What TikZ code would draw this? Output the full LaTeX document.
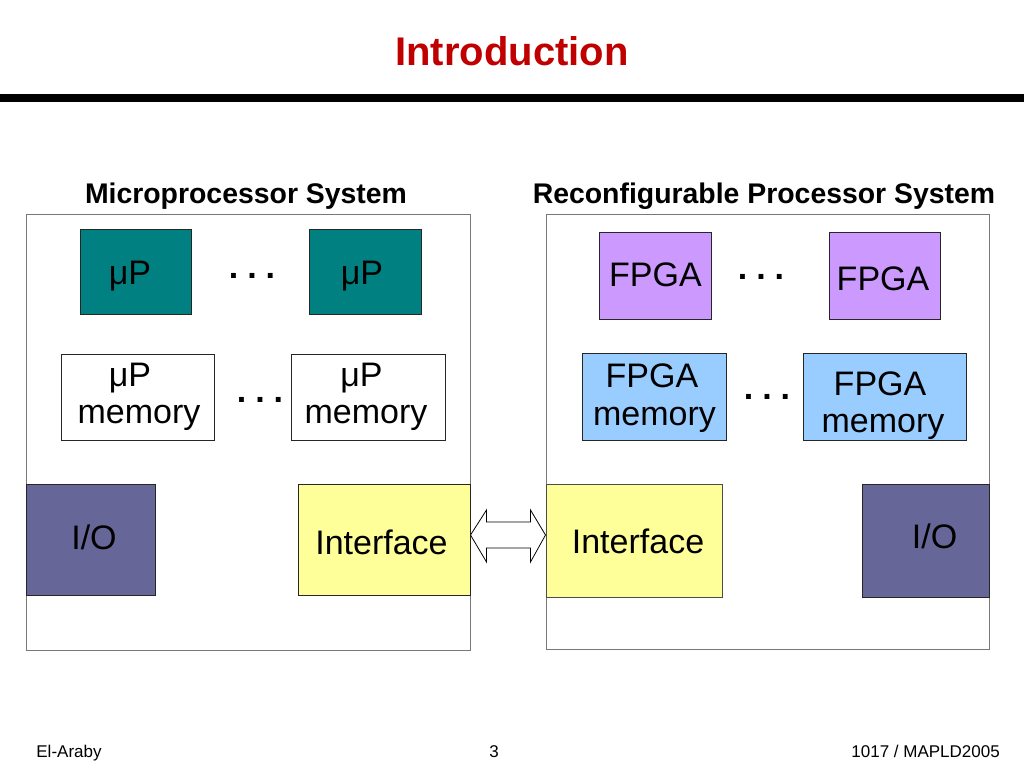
\documentclass[tikz,border=0pt]{standalone}
\usepackage{fontspec}
\setmainfont{Liberation Sans}
\usetikzlibrary{calc}
\definecolor{titlered}{RGB}{192,0,0}
\definecolor{teal}{RGB}{0,128,128}
\definecolor{iocol}{RGB}{102,102,153}
\definecolor{ifcol}{RGB}{255,255,153}
\definecolor{fpgacol}{RGB}{204,153,255}
\definecolor{fmemcol}{RGB}{153,204,255}
\definecolor{framegray}{RGB}{120,120,120}
\newcommand{\tdots}{.\kern9pt.\kern9pt.}
\begin{document}
\begin{tikzpicture}[x=1pt,y=-1pt,
  frame/.style={draw=framegray, line width=1pt, fill=white, inner sep=0pt},
  blk/.style={draw=black!85, line width=1pt, inner sep=0pt},
  sz/.style n args={2}{minimum width=#1pt, minimum height=#2pt},
  txt/.style={anchor=base, inner sep=0pt, font=\fontsize{34}{38}\selectfont},
  dotsty/.style={anchor=base, inner sep=0pt, font=\fontsize{34}{38}\selectfont\bfseries},
  hdr/.style={anchor=base, inner sep=0pt, font=\fontsize{28.4}{32}\selectfont\bfseries},
  foot/.style={anchor=base, inner sep=0pt, font=\fontsize{17}{20}\selectfont},
  arrowshape/.style={draw=black, line width=0.8pt, fill=white, line join=miter}]
\useasboundingbox[fill=white] (0,0) rectangle (1024,768);

% title and rule
\node[anchor=base, inner sep=0pt, font=\fontsize{40}{44}\selectfont\bfseries, text=titlered] (title) at (512,66) {Introduction};
\fill[black] (0,94) rectangle (1024,101.5);

% headers
\node[hdr] (hL) at (246,203) {Microprocessor System};
\node[hdr] (hR) at (764,203) {Reconfigurable Processor System};

% frames
\node[frame, sz={444}{436}] (bigL) at (248,432) {};
\node[frame, sz={443}{435}] (bigR) at (767.5,431.5) {};

% left system
\node[blk, fill=teal, sz={111}{85}] (up1) at (135.5,271.5) {};
\node[blk, fill=teal, sz={112}{85}] (up2) at (365,271.5) {};
\node[txt] (up1t) at (130,284) {μP};
\node[txt] (up2t) at (362,284) {μP};
\node[dotsty] (dots1) at (252,278) {\tdots};

\node[blk, fill=white, sz={153}{86}] (mem1) at (137.5,397) {};
\node[blk, fill=white, sz={154}{86}] (mem2) at (368,397) {};
\node[txt] (mem1a) at (130,386) {μP};
\node[txt] (mem1b) at (139,423) {memory};
\node[txt] (mem2a) at (361.5,386) {μP};
\node[txt] (mem2b) at (366,423) {memory};
\node[dotsty] (dots2) at (260,402) {\tdots};

\node[blk, fill=iocol, sz={129}{111}] (io1) at (90.5,539.5) {};
\node[txt] (io1t) at (94,549) {I/O};
\node[blk, fill=ifcol, sz={172}{111}] (ifL) at (384,539.5) {};
\node[txt] (ifLt) at (381.5,554) {Interface};

% right system
\node[blk, fill=fpgacol, sz={112}{87}] (f1) at (655,275.5) {};
\node[blk, fill=fpgacol, sz={111}{87}] (f2) at (884.5,275.5) {};
\node[txt] (f1t) at (655.5,286) {FPGA};
\node[txt] (f2t) at (883,290) {FPGA};
\node[dotsty] (dots3) at (761,279) {\tdots};

\node[blk, fill=fmemcol, sz={144}{87}] (fm1) at (654,396.5) {};
\node[blk, fill=fmemcol, sz={163}{87}] (fm2) at (884.5,396.5) {};
\node[txt] (fm1a) at (652,387) {FPGA};
\node[txt] (fm1b) at (654.5,425) {memory};
\node[txt] (fm2a) at (880,395) {FPGA};
\node[txt] (fm2b) at (883,432) {memory};
\node[dotsty] (dots4) at (767,399) {\tdots};

\node[blk, draw=black!70, fill=ifcol, sz={176}{113}] (ifR) at (634,540.5) {};
\node[txt] (ifRt) at (638,553) {Interface};
\node[blk, fill=iocol, sz={127}{113}] (io2) at (925.5,540.5) {};
\node[txt] (io2t) at (934.5,548) {I/O};

% double arrow between interfaces
\coordinate (aL) at ([yshift=4.5pt]ifL.east);
\coordinate (aR) at ([yshift=5.5pt]ifR.west);
\draw[arrowshape] (aL) -- ++(16,-25) -- ++(0,12) -- ($(aR)+(-15,-13)$) -- ++(0,-12)
  -- (aR) -- ++(-15,27) -- ++(0,-14) -- ($(aL)+(16,13)$) -- ++(0,14) -- cycle;

% footer
\node[foot] (fl) at (69,757) {El-Araby};
\node[foot] (fc) at (494,757) {3};
\node[foot, anchor=base east] (fr) at (1000,757) {1017 / MAPLD2005};
\end{tikzpicture}
\end{document}
